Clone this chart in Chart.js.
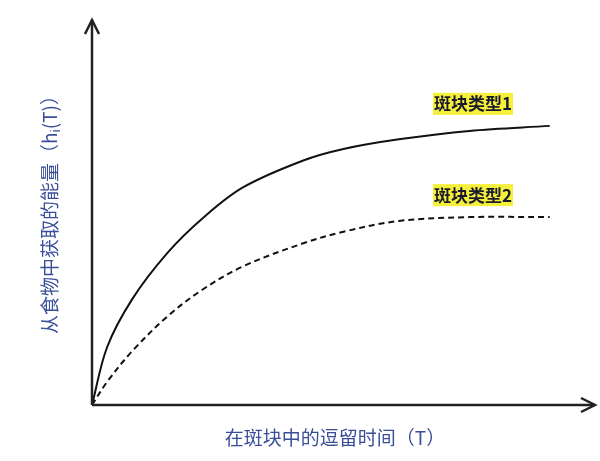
<!DOCTYPE html>
<html><head><meta charset="utf-8">
<script src="https://cdn.jsdelivr.net/npm/chart.js@4"></script>
<style>html,body{margin:0;padding:0;background:#fff}#w{width:600px;height:461px}</style>
</head><body><div id="w"><canvas id="c"></canvas></div>
<script>
const xs=[0,0.3,0.8,1.5,2.2,3,4.2,5,6.1,7.5,9.1];
const type1=[0,1.5,2.75,3.95,4.85,5.65,6.35,6.65,6.9,7.12,7.25];
const type2=[0,0.6,1.4,2.3,3.0,3.6,4.2,4.5,4.78,4.88,4.88];
const seriesNames=['斑块类型1','斑块类型2'];
const xTitle='在斑块中的逗留时间（T）';
const yTitle='从食物中获取的能量（h';
const pts=a=>xs.map((x,i)=>({x,y:a[i]}));
const deco={id:'deco',afterDraw(ch){
 const c=ch.ctx,a=ch.chartArea;c.save();
 c.strokeStyle='#222';c.lineWidth=2.5;c.beginPath();
 c.moveTo(a.left,a.bottom);c.lineTo(a.left,a.top);
 c.moveTo(a.left,a.bottom);c.lineTo(a.right,a.bottom);c.stroke();
 c.beginPath();c.moveTo(a.left-7,a.top+14);c.lineTo(a.left,a.top);c.lineTo(a.left+7,a.top+14);
 c.moveTo(a.right-14,a.bottom-7);c.lineTo(a.right,a.bottom);c.lineTo(a.right-14,a.bottom+7);c.stroke();
 const sy=ch.scales.y;
 c.font='bold 17px "Noto Sans CJK SC"';c.textBaseline='middle';
 [[type1,0],[type2,1]].forEach(([d,i])=>{
  const t=seriesNames[i];const w=c.measureText(t).width;
  const x=433,y=sy.getPixelForValue(d[d.length-1])-22;
  c.fillStyle='#f5f03a';c.fillRect(x,y-11,w+2,22);
  c.fillStyle='#1a1a2e';c.fillText(t,x+1,y);
 });
 c.fillStyle='#3a4f9a';c.font='19px "Noto Sans CJK SC"';c.textAlign='center';
 c.fillText(xTitle,335,438);
 c.translate(50,210);c.rotate(-Math.PI/2);
 c.textAlign='left';
 const p1=yTitle,p2='i',p3='(T)）';
 const w1=c.measureText(p1).width;c.font='12px "Noto Sans CJK SC"';const w2=c.measureText(p2).width;
 c.font='19px "Noto Sans CJK SC"';const w3=c.measureText(p3).width;
 let x0=-(w1+w2+w3)/2;
 c.fillText(p1,x0,0);c.font='12px "Noto Sans CJK SC"';c.fillText(p2,x0+w1,5);
 c.font='19px "Noto Sans CJK SC"';c.fillText(p3,x0+w1+w2,0);
 c.restore();}};
new Chart(document.getElementById('c'),{type:'line',
 data:{datasets:[
  {data:pts(type1),borderColor:'#111',borderWidth:2,pointRadius:0,tension:0.35},
  {data:pts(type2),borderColor:'#111',borderWidth:2,borderDash:[6,4],pointRadius:0,tension:0.35}]},
 options:{responsive:true,maintainAspectRatio:false,animation:false,
  layout:{padding:{left:92,right:5,top:20,bottom:56}},
  plugins:{legend:{display:false},tooltip:{enabled:false}},
  scales:{x:{type:'linear',min:0,max:10,display:false},y:{min:0,max:10,display:false}}},
 plugins:[deco]});
</script></body></html>
